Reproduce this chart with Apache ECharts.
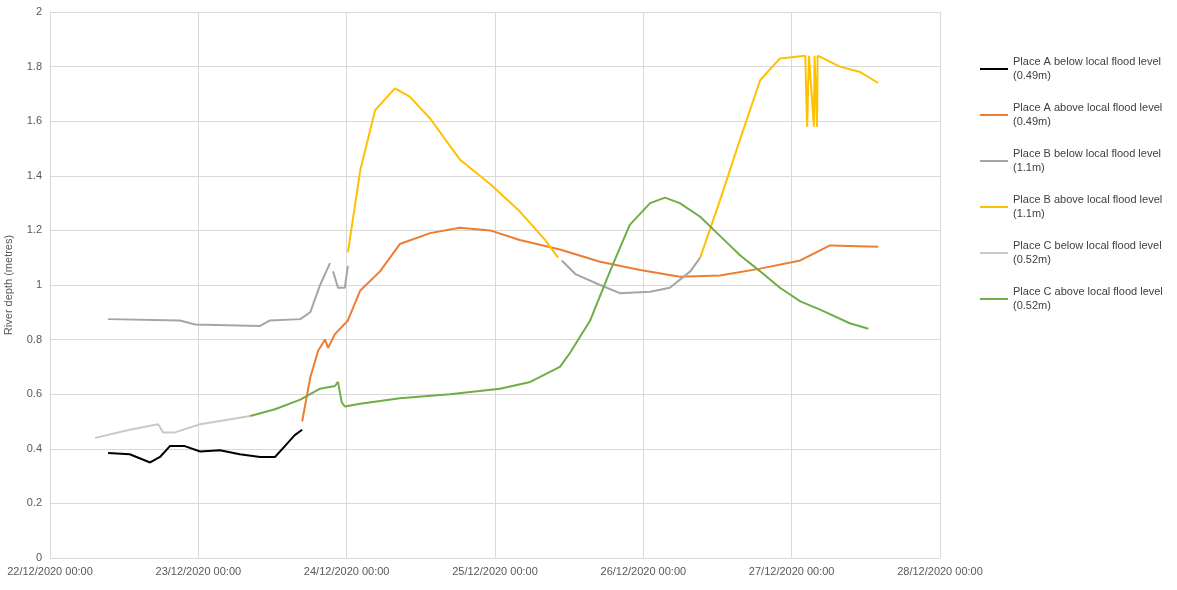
<!DOCTYPE html>
<html>
<head>
<meta charset="utf-8">
<script src="https://cdn.jsdelivr.net/npm/echarts@6/dist/echarts.min.js"></script>
<style>html,body{margin:0;padding:0;background:#fff}#main{width:1177px;height:590px}</style>
</head>
<body>
<div id="main"></div>
<script>
// hours since 22/12/2020 00:00, '-' breaks the line
var aBelowH = [9.4,12.9,16.2,17.8,19.4,21.8,24.3,27.5,30.7,34,36.4,38,39.6,40.8];
var aBelowV = [0.385,0.38,0.35,0.37,0.41,0.41,0.39,0.395,0.38,0.37,0.37,0.41,0.45,0.47];
var aAboveH = [40.8,42.1,43.4,44.5,45,46.1,48.2,50.2,53.4,56.6,61.5,66.3,71.2,76,82.5,89,95.5,101.9,108.4,114.9,121.4,126.2,134];
var aAboveV = [0.5,0.66,0.76,0.8,0.77,0.82,0.87,0.98,1.05,1.15,1.19,1.21,1.2,1.165,1.13,1.085,1.055,1.03,1.035,1.06,1.09,1.145,1.14];
var bBelowH = [9.4,21,23.5,34,35.6,40.5,42.1,43.7,45.3,45.5,45.8,46.6,47.7,48.2,60,82.8,85,89,92.2,97.1,100.3,103.6,105.2];
var bBelowV = [0.875,0.87,0.855,0.85,0.87,0.875,0.9,1.0,1.08,'-',1.05,0.99,0.99,1.07,'-',1.09,1.04,1.0,0.97,0.975,0.99,1.05,1.1];
var bAboveH = [48.2,49.4,50.2,52.6,55.8,58.2,61.5,66.3,71.2,76,80.1,82.2,90,105.2,108.4,111.6,114.9,118.1,122.2,122.5,122.8,123.6,123.7,124.1,124.2,127.8,131.1,134];
var bAboveV = [1.12,1.3,1.42,1.64,1.72,1.69,1.61,1.46,1.37,1.27,1.165,1.1,'-',1.1,1.31,1.53,1.75,1.83,1.84,1.58,1.84,1.58,1.84,1.58,1.84,1.8,1.78,1.74];
var cBelowH = [7.3,12.9,17.5,18.3,20.2,24.3,32.4];
var cBelowV = [0.44,0.47,0.49,0.46,0.46,0.49,0.52];
var cAboveH = [32.4,36.4,40.5,43.7,46.1,46.6,47.2,47.7,50.2,56.6,64.7,72.8,77.7,82.5,84.1,87.4,90.6,93.8,97.1,99.5,101.9,105.2,108.4,111.6,114.9,118.1,121.4,124.6,129.4,132.4];
var cAboveV = [0.52,0.545,0.58,0.62,0.63,0.645,0.57,0.555,0.565,0.585,0.6,0.62,0.645,0.7,0.75,0.87,1.05,1.22,1.3,1.32,1.3,1.25,1.18,1.11,1.05,0.99,0.94,0.91,0.86,0.84];

var seriesNames = ['Place A below local flood level\n(0.49m)','Place A above local flood level\n(0.49m)','Place B below local flood level\n(1.1m)','Place B above local flood level\n(1.1m)','Place C below local flood level\n(0.52m)','Place C above local flood level\n(0.52m)'];
var seriesColors = ['#000000','#ED7D31','#A5A5A5','#FFC000','#C9C9C9','#70AD47'];

var t0 = new Date(2020, 11, 22).getTime();
function pts(h, v) {
  return h.map(function (x, i) { return [t0 + x * 3600000, v[i]]; });
}
var allData = [pts(aBelowH, aBelowV), pts(aAboveH, aAboveV), pts(bBelowH, bBelowV), pts(bAboveH, bAboveV), pts(cBelowH, cBelowV), pts(cAboveH, cAboveV)];

function pad(n) { return (n < 10 ? '0' : '') + n; }

var myChart = echarts.init(document.getElementById('main'));
var option = {
  animation: false,
  textStyle: { fontFamily: 'Liberation Sans, Arial' },
  grid: { left: 50, right: 237, top: 12, bottom: 32, containLabel: false, outerBoundsMode: 'none' },
  legend: {
    orient: 'vertical', left: 975, top: 50, itemGap: 18,
    itemWidth: 28, itemHeight: 2, icon: 'rect',
    textStyle: { fontSize: 11, color: '#404040', lineHeight: 14 },
    data: seriesNames
  },
  xAxis: {
    type: 'time',
    min: t0, max: t0 + 6 * 86400000, interval: 86400000,
    axisLine: { lineStyle: { color: '#d9d9d9' } },
    axisTick: { show: false },
    splitLine: { show: true, lineStyle: { color: '#d9d9d9' } },
    axisLabel: {
      color: '#595959', fontSize: 11, showMinLabel: true, showMaxLabel: true,
      formatter: function (val) {
        var d = new Date(val);
        return pad(d.getDate()) + '/' + pad(d.getMonth() + 1) + '/' + d.getFullYear() + ' 00:00';
      }
    }
  },
  yAxis: {
    type: 'value', min: 0, max: 2, interval: 0.2,
    name: 'River depth (metres)', nameLocation: 'middle', nameGap: 36,
    nameTextStyle: { color: '#595959', fontSize: 11 },
    axisLine: { show: false }, axisTick: { show: false },
    splitLine: { lineStyle: { color: '#d9d9d9' } },
    axisLabel: { color: '#595959', fontSize: 11, formatter: function (v) { return String(+v.toFixed(1)); } }
  },
  series: seriesNames.map(function (n, i) {
    return {
      name: n, type: 'line', data: allData[i], showSymbol: false, connectNulls: false,
      lineStyle: { width: 2, color: seriesColors[i] }, itemStyle: { color: seriesColors[i] }
    };
  })
};
myChart.setOption(option);
</script>
</body>
</html>
